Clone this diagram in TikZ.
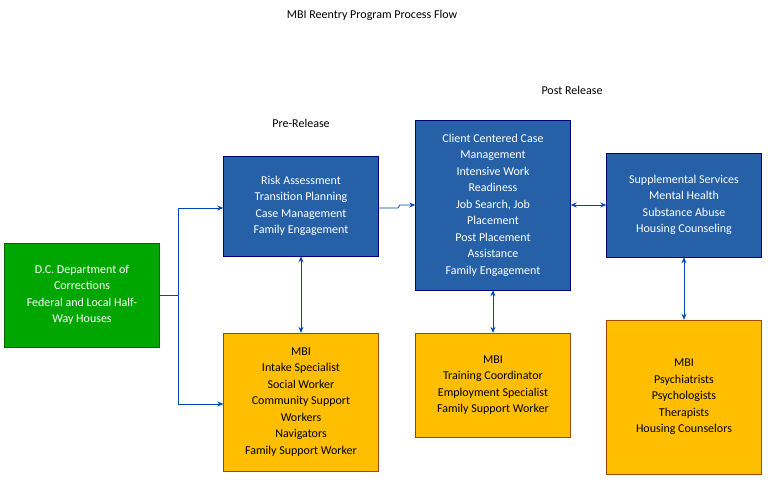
\documentclass[tikz,border=0pt]{standalone}
\usepackage{fontspec}
\setmainfont{Carlito}
\usetikzlibrary{arrows.meta}
\begin{document}
\begin{tikzpicture}[x=1pt,y=-1pt,font=\fontsize{12}{16.5}\selectfont]
\tikzstyle{blk}= [rectangle,draw=blue!50!black,fill=blue!55!cyan!60!black!85,text=white,align=center,minimum width=155pt,inner sep=2pt]
\tikzstyle{grn}= [rectangle,draw=green!40!black,fill=green!65!black,text=white,align=center,minimum width=155pt,minimum height=104pt]
\tikzstyle{ylw}= [rectangle,draw=orange!60!black,fill=orange!50!yellow,align=center,minimum width=155pt,inner sep=2pt]
\tikzstyle{dep}= [-{Stealth[length=6pt,width=5pt]},thick,draw=blue!60!cyan!70!black]
\tikzstyle{bi}= [{Stealth[length=6pt,width=5pt]}-{Stealth[length=6pt,width=5pt]},thick,draw=blue!60!cyan!70!black]
\useasboundingbox (0,0) rectangle (768,484);

\path
	(372, 15) node (title) {MBI Reentry Program Process Flow}
	(301,123) node (pre) {Pre-Release}
	(572, 90) node (post) {Post Release}
	( 82,295) node[grn] (doc) {D.C. Department of\\Corrections\\Federal and Local Half-\\Way Houses}
	(301,206) node[blk,minimum height=100pt] (risk) {Risk Assessment\\Transition Planning\\Case Management\\Family Engagement}
	(301,402) node[ylw,minimum height=138pt] (mbia) {MBI\\Intake Specialist\\Social Worker\\Community Support\\Workers\\Navigators\\Family Support Worker}
	(493,205) node[blk,minimum height=170pt] (ccm) {Client Centered Case\\Management\\Intensive Work\\Readiness\\Job Search, Job\\Placement\\Post Placement\\Assistance\\Family Engagement}
	(493,385) node[ylw,minimum height=104pt] (mbib) {MBI\\Training Coordinator\\Employment Specialist\\Family Support Worker}
	(684,205) node[blk,minimum height=104pt] (supp) {Supplemental Services\\Mental Health\\Substance Abuse\\Housing Counseling}
	(684,397) node[ylw,minimum height=154pt] (mbic) {MBI\\Psychiatrists\\Psychologists\\Therapists\\Housing Counselors}
;
\coordinate (fork) at (178,295);
\draw[thick,draw=blue!60!cyan!70!black] (doc.east) -- (fork);
\draw[dep] (fork) |- (risk.west |- 0,208);
\draw[dep] (fork) |- (mbia.west |- 0,404);
\draw[dep] (risk.east |- 0,208) -- (398,208) -- (400,205) -- (ccm.west);
\draw[bi] (risk) -- (mbia);
\draw[bi] (ccm) -- (mbib);
\draw[bi] (ccm) -- (supp);
\draw[bi] (supp) -- (mbic);
\end{tikzpicture}
\end{document}
